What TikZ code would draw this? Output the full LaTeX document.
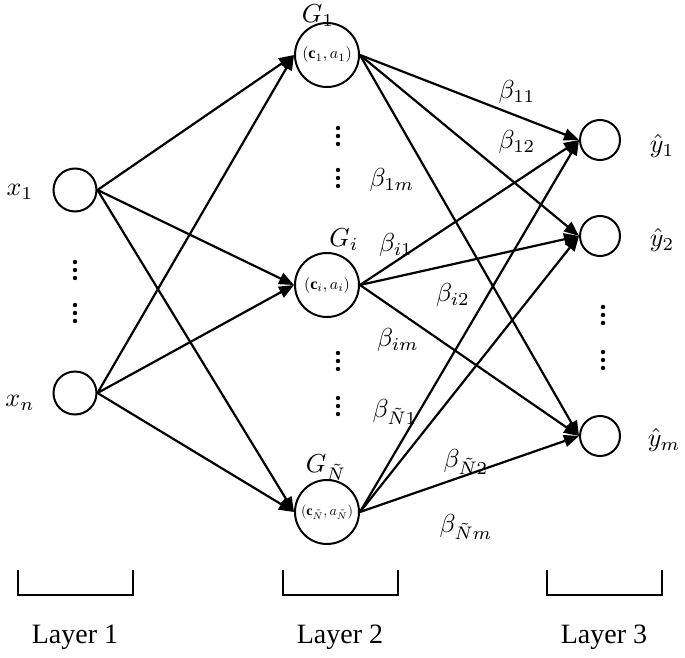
\documentclass[tikz,border=0pt]{standalone}
\usepackage{fontspec}
\setmainfont{Liberation Serif}
\usepackage{graphicx}
\usetikzlibrary{arrows.meta}
\newcommand{\BigM}[1]{\scalebox{2.6}{$#1$}}
\newcommand{\MidM}[1]{\scalebox{1.6}{$#1$}}
\begin{document}
\begin{tikzpicture}[x=1pt,y=-1pt,
  inp/.style={circle,draw,line width=2pt,minimum size=43pt,inner sep=0pt},
  hid/.style={circle,draw,line width=2pt,minimum size=64pt,inner sep=0pt},
  outn/.style={circle,draw,line width=2pt,minimum size=40pt,inner sep=0pt},
  arr/.style={line width=2.2pt,-{Triangle[length=15pt,width=12pt]}},
  lbl/.style={inner sep=0pt}]
\useasboundingbox (0,0) rectangle (685,658);
\node[inp] (x1) at (75,190) {};
\node[inp] (xn) at (75,393) {};
\node[hid] (g1) at (327,55) {\MidM{(\mathbf{c}_1,a_1)}};
\node[hid] (gi) at (327,285) {\MidM{(\mathbf{c}_i,a_i)}};
\node[hid] (gn) at (327,512) {\scalebox{1.4}{$(\mathbf{c}_{\tilde N},a_{\tilde N})$}};
\node[outn] (y1) at (600,140) {};
\node[outn] (y2) at (600,236) {};
\node[outn] (ym) at (600,436) {};
\foreach \a in {x1,xn} \foreach \b in {g1,gi,gn} \draw[arr] (\a.east) -- (\b.west);
\foreach \a in {g1,gi,gn} \foreach \b in {y1,y2,ym} \draw[arr] (\a.east) -- (\b.west);
\node[lbl] (lx1) at (20,192) {\BigM{x_1}};
\node[lbl] (lxn) at (20,403) {\BigM{x_n}};
\node[lbl] (lg1) at (318,16) {\BigM{G_1}};
\node[lbl] (lgi) at (344,240) {\BigM{G_i}};
\node[lbl] (lgn) at (326,468) {\BigM{G_{\tilde N}}};
\node[lbl] (ly1) at (662,146) {\BigM{\hat y_1}};
\node[lbl] (ly2) at (662,240) {\BigM{\hat y_2}};
\node[lbl] (lym) at (664,440) {\BigM{\hat y_m}};
\node[lbl] (b11) at (517,92) {\BigM{\beta_{11}}};
\node[lbl] (b12) at (517,142) {\BigM{\beta_{12}}};
\node[lbl] (b1m) at (392,180) {\BigM{\beta_{1m}}};
\node[lbl] (bi1) at (396,245) {\BigM{\beta_{i1}}};
\node[lbl] (bi2) at (453,295) {\BigM{\beta_{i2}}};
\node[lbl] (bim) at (398,340) {\BigM{\beta_{im}}};
\node[lbl] (bn1) at (395,412) {\BigM{\beta_{\tilde N1}}};
\node[lbl] (bn2) at (466,462) {\BigM{\beta_{\tilde N2}}};
\node[lbl] (bnm) at (466,527) {\BigM{\beta_{\tilde Nm}}};
\foreach \x/\y in {75/262,75/305,338/128,338/170,338/353,338/398,603/307,603/352}
  \foreach \k in {0,8,16} \fill (\x,\y+\k) circle (2.2pt);
\foreach \l/\x/\t in {l1/18/Layer 1,l2/283/Layer 2,l3/547/Layer 3}{
  \draw[line width=2pt] (\x,570) -- (\x,595) -- (\x+115,595) -- (\x+115,570);
  \node[font=\fontsize{28}{30}\selectfont] (\l) at (\x+57,637) {\t};
}
\end{tikzpicture}
\end{document}
